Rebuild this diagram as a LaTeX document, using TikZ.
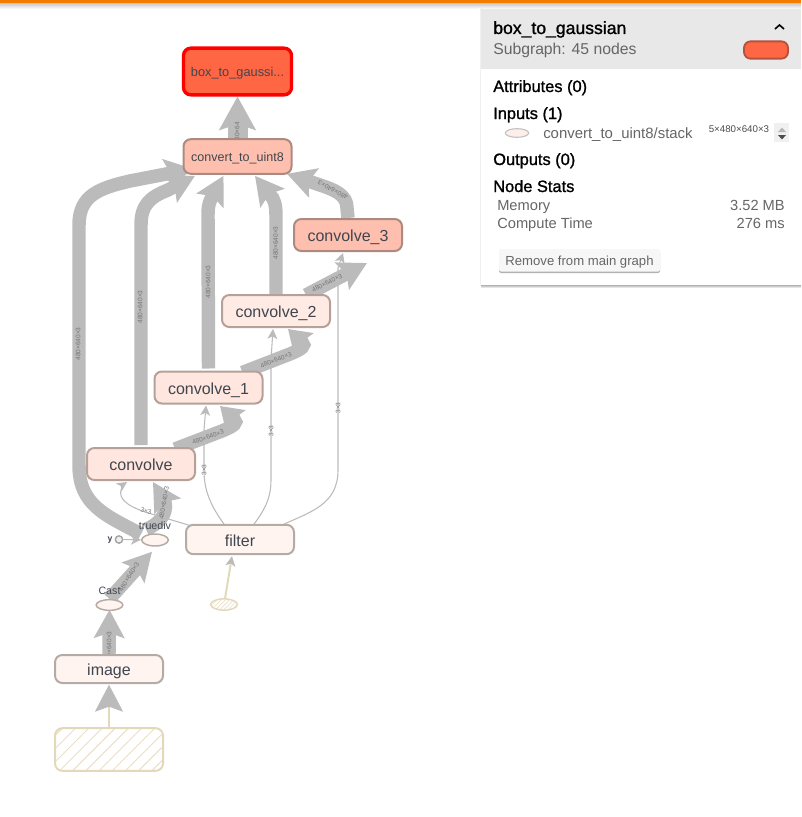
\documentclass[tikz,border=0pt]{standalone}
\usepackage{fontspec}
\setmainfont{Liberation Sans}
\newfontface\medfont[FakeBold=1.2]{Liberation Sans}
\usetikzlibrary{arrows.meta,shapes.geometric,patterns.meta}
\pgfdeclarelayer{edges}
\pgfsetlayers{edges,main}
\definecolor{edgegray}{HTML}{BBBBBB}
\definecolor{tanline}{HTML}{E2D9BA}
\definecolor{hatchc}{HTML}{EADFC4}
\definecolor{txt}{HTML}{3F4650}
\definecolor{soft}{HTML}{666666}
\definecolor{lab}{HTML}{757575}
\definecolor{cBox}{HTML}{FF6644}
\definecolor{cHot}{HTML}{FFBFAE}
\definecolor{cWarm}{HTML}{FFE6DE}
\definecolor{cMild}{HTML}{FFEBE4}
\definecolor{cCool}{HTML}{FFF4EF}
\definecolor{bHot}{HTML}{AD8A80}
\definecolor{bWarm}{HTML}{B5A199}
\definecolor{bCool}{HTML}{B5ABA5}
\definecolor{headbg}{HTML}{E8E8E8}
\tikzset{
  x=0.75pt,y=-0.75pt,
  groupbox/.style={draw=bWarm,line width=1.5pt,rounded corners=5.5pt,minimum width=81pt,minimum height=24pt,inner sep=0pt,text=txt,font=\fontsize{12}{14}\selectfont,text height=11pt,text depth=1pt},
  smallbox/.style={text height=9pt,text depth=1pt},
  opnode/.style={ellipse,draw=bCool,line width=1.1pt,inner sep=0pt,fill=cCool},
  fat/.style={draw=edgegray,line width=10.1pt,-{Stealth[length=21pt,width=22.5pt,inset=3.75pt,color=edgegray]}},
  hook/.style={draw=edgegray,line width=10.1pt,-{Stealth[length=16pt,width=21pt,inset=2pt,color=edgegray]}},
  widest/.style={draw=edgegray,line width=15pt,-{Stealth[length=25pt,width=27pt,inset=4.5pt,color=edgegray]}},
  thinedge/.style={draw=edgegray,line width=0.8pt,-{Stealth[length=7.5pt,width=7.5pt,inset=2pt,color=edgegray]}},
  feed/.style={draw=tanline,line width=1.5pt},
  elabel/.style={font=\fontsize{4.9}{5}\selectfont,text=lab,inner sep=0pt},
  opname/.style={font=\fontsize{8}{9}\selectfont,text=txt,inner sep=0pt},
  ptext/.style={anchor=base west,inner sep=0pt,text=soft},
  phead/.style={anchor=base west,inner sep=0pt,text=black,font=\medfont\fontsize{12.3}{14}\selectfont},
  pright/.style={anchor=base east,inner sep=0pt,text=soft,font=\fontsize{11}{13}\selectfont},
}
\begin{document}
\begin{tikzpicture}
\useasboundingbox (0,0) rectangle (801,817);
% ---------- graph nodes
\node[groupbox,smallbox,draw=red,line width=2.5pt,fill=cBox,minimum height=35pt,font=\fontsize{9.6}{11}\selectfont] (box) at (237.5,71.5) {box\_to\_gaussi...};
\node[groupbox,smallbox,draw=bHot,fill=cHot,minimum height=26pt,font=\fontsize{9.4}{11}\selectfont] (uint) at (237.5,156.5) {convert\_to\_uint8};
\node[groupbox,draw=bHot,fill=cHot] (convc) at (348,235) {convolve\_3};
\node[groupbox,fill=cMild] (convb) at (276,311) {convolve\_2};
\node[groupbox,fill=cWarm] (conva) at (208.5,387.5) {convolve\_1};
\node[groupbox,fill=cWarm] (conv) at (141,464) {convolve};
\node[groupbox,draw=bCool,fill=cCool,minimum height=22pt] (filter) at (240,539.5) {filter};
\node[groupbox,draw=bCool,fill=cCool,minimum height=21pt] (image) at (109,669) {image};
\node[groupbox,draw=tanline,pattern={Lines[angle=45,distance=7pt,line width=0.7pt]},pattern color=hatchc,minimum height=32pt] (input) at (109,749.5) {};
\node[opnode,minimum width=20pt,minimum height=9pt] (truediv) at (155,540) {};
\node[opname,anchor=base] (truedivname) at (155,529) {truediv};
\node[opnode,minimum width=20pt,minimum height=8pt] (cast) at (109.5,605) {};
\node[opname,anchor=base] (castname) at (109.5,594) {Cast};
\node[ellipse,draw=tanline,line width=1.1pt,inner sep=0pt,minimum width=20pt,minimum height=8.5pt,pattern={Lines[angle=45,distance=2.2pt,line width=0.5pt]},pattern color=hatchc] (finput) at (224,604.5) {};
\node[circle,draw=black!35,fill=black!6,line width=1.1pt,minimum size=5.5pt,inner sep=0pt] (yconst) at (119,539.5) {};
\node[inner sep=0pt,font=\bfseries\fontsize{6.5}{8}\selectfont,text=txt] (yname) at (110,540) {y};
% ---------- connectors
\begin{pgfonlayer}{edges}
\draw[thinedge] ([shift={(-50,-14)}]filter.center) -- (145,512) .. controls (125,505) and (119,498) .. (121,490) .. controls (122,487) and (124,484) .. ([shift={(-14,1)}]conv.south);
\draw[thinedge] ([shift={(-15,-14)}]filter.center) .. controls (210,505) and (204,490) .. (204,470) -- (204,430) -- ([shift={(-2.5,1)}]conva.south);
\draw[thinedge] ([shift={(13,-14)}]filter.center) .. controls (263,512) and (271,500) .. (271,480) -- (271,360) -- ([shift={(-3,1)}]convb.south);
\draw[thinedge] ([shift={(41,-14)}]filter.center) .. controls (310,512) and (338,505) .. (338,470) -- (338,268) -- ([shift={(-5,1)}]convc.south);
\draw[thinedge] (yconst) -- (truediv);
\draw[feed,-{Stealth[length=20.25pt,width=21pt,inset=3.75pt,color=edgegray]}] (input.north) -- ([yshift=-0.5pt]image.south);
\draw[feed,-{Stealth[length=7.5pt,width=7.5pt,inset=2pt,color=edgegray]}] (finput) -- ([shift={(-8,1)}]filter.south);
\draw[widest] (uint.north) -- (box.south);
\draw[fat] ([shift={(-14,-6)}]truediv.center) .. controls (105,515) and (79,505) .. (79,465) -- (79,225) .. controls (79,195) and (100,188) .. (130,181) -- ([shift={(-44.5,-6)}]uint.south);
\draw[fat] ([shift={(0,-2)}]conv.north) -- (141,225) .. controls (141,205) and (150,197) .. (168,190) -- ([shift={(-42.5,1)}]uint.south);
\draw[fat] ([shift={(0,-2)}]conva.north) -- (208,215) .. controls (208,207) and (209,203) .. (211,199) -- ([shift={(-14,1)}]uint.south);
\draw[fat] (convb.north) -- (276,215) .. controls (276,205) and (274,198) .. (270,195) -- ([shift={(17.5,1)}]uint.south);
\draw[fat] (convc.north) -- (347,208) .. controls (347,195) and (335,190) .. (320,185) -- ([shift={(49.5,-1)}]uint.south);
\draw[fat] ([shift={(-9,-4)}]truediv.north) .. controls (157,525) and (168,515) .. (165,502) -- ([shift={(12,1)}]conv.south);
\draw[fat] (cast.north) -- ([shift={(-3,5)}]truediv.south);
\draw[fat] (image.north) -- ([yshift=1pt]cast.south);
\draw[hook] ([shift={(34,-15)}]conv.center) -- (222,431) .. controls (234,426) and (238,423) .. (234,419) -- ([shift={(11.5,1.5)}]conva.south);
\draw[hook] ([shift={(34,-15)}]conva.center) -- (290,354) .. controls (302,349) and (306,346) .. (302,342) -- ([shift={(12,1)}]convb.south);
\draw[fat] ([shift={(30,-16)}]convb.center) -- (367,263);
% edge labels
\node[elabel,rotate=90] (l0) at (237,133) {480×64};
\node[elabel,rotate=90] (l1) at (78,344) {480×640×3};
\node[elabel,rotate=90] (l2) at (140,307) {480×640×3};
\node[elabel,rotate=90] (l3) at (208,282) {480×640×3};
\node[elabel,rotate=90] (l4) at (275.5,243) {480×640×3};
\node[elabel,rotate=152] (l5) at (333,190) {480×640×3};
\node[elabel,rotate=20] (l6) at (208,437) {480×640×3};
\node[elabel,rotate=22] (l7) at (276,360) {480×640×3};
\node[elabel,rotate=27] (l8) at (327,283) {480×640×3};
\node[elabel,rotate=80] (l9) at (164,503) {480×640×3};
\node[elabel,rotate=58] (l10) at (129,577) {480×640×3};
\node[elabel,rotate=90] (l11) at (109,648) {480×640×3};
\node[elabel,rotate=90] (l12) at (204,470) {3×3};
\node[elabel,rotate=90] (l13) at (271,431) {3×3};
\node[elabel,rotate=90] (l14) at (338,408) {3×3};
\node[elabel,rotate=-18] (l15) at (146,511) {3×3};
\end{pgfonlayer}
% ---------- top bar and info panel
\shade[top color=black!22,bottom color=white] (0,3) rectangle (801,9);
\fill[fill={rgb,255:red,245;green,124;blue,0}] (0,0) rectangle (801,3);
\shade[top color=black!30,bottom color=white] (481,285) rectangle (801,288);
\shade[left color=white,right color=black!12] (479,9) rectangle (481,285);
\fill[white] (481,9) rectangle (801,285);
\fill[headbg] (481,9) rectangle (801,69);
\node[ptext,text=black,font=\medfont\fontsize{13.2}{16}\selectfont] (ptitle) at (493,34) {box\_to\_gaussian};
\node[ptext,font=\fontsize{11.8}{14}\selectfont] (psub) at (493,55) {Subgraph: 45 nodes};
\draw[black,line width=1.2pt] (775,29) -- (779.5,25) -- (784,29);
\node[draw={rgb,255:red,181;green,81;blue,60},fill=cBox,line width=1.4pt,rounded corners=5pt,minimum width=33pt,minimum height=13pt,inner sep=0pt] (pill) at (766,50) {};
\node[phead] (pattr) at (493,92) {Attributes (0)};
\node[phead] (pin) at (493,119) {Inputs (1)};
\node[ellipse,draw=black!25,fill={rgb,255:red,253;green,238;blue,234},line width=0.8pt,minimum width=17.5pt,minimum height=6.5pt,inner sep=0pt] (pell) at (517,133) {};
\node[ptext,font=\fontsize{11.2}{13}\selectfont] (pinname) at (543,138) {convert\_to\_uint8/stack};
\node[ptext,text=black!70,font=\fontsize{7.3}{9}\selectfont] (pshape) at (708.5,132.5) {5×480×640×3};
\fill[black!6] (774,123) rectangle (789,142);
\fill[black!28] (778,132) -- (782,127.5) -- (786,132) -- cycle;
\fill[black!70] (778,135) -- (786,135) -- (782,139.5) -- cycle;
\node[phead] (pout) at (493,165) {Outputs (0)};
\node[phead] (pstats) at (493,192) {Node Stats};
\node[ptext,font=\fontsize{11}{13}\selectfont] (pmem) at (497,210) {Memory};
\node[pright] (pmemv) at (785,210) {3.52 MB};
\node[ptext,font=\fontsize{11}{13}\selectfont] (pcomp) at (497,228) {Compute Time};
\node[pright] (pcompv) at (785,228) {276 ms};
\fill[black!30,rounded corners=1.5pt] (499,250.5) rectangle (660,273);
\fill[black!3,rounded corners=1.5pt] (499,249) rectangle (660,271.5);
\node[inner sep=0pt,anchor=base,text=soft,font=\fontsize{9.85}{12}\selectfont] (pbtn) at (579.5,265) {Remove from main graph};
\end{tikzpicture}
\end{document}
